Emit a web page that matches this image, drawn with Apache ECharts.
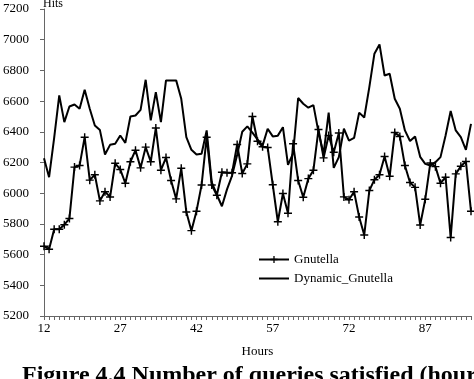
<!DOCTYPE html>
<html><head><meta charset="utf-8">
<script src="https://cdn.jsdelivr.net/npm/echarts@6/dist/echarts.min.js"></script>
<style>html,body{margin:0;padding:0;background:#fff;}#c{width:474px;height:379px;}</style>
</head><body><div id="c"></div>
<script>
const hours = [];
for (let h = 12; h <= 96; h++) hours.push(String(h));
const gnutella = [5655,5635,5765,5765,5795,5835,6170,6180,6365,6085,6120,5950,6010,5975,6195,6155,6065,6205,6280,6165,6300,6205,6425,6150,6232,6083,5963,6162,5878,5756,5883,6053,6365,6053,5987,6137,6133,6133,6317,6128,6191,6500,6338,6302,6298,6055,5814,5998,5870,6322,6083,5974,6095,6150,6415,6230,6376,6267,6392,5976,5957,6010,5845,5728,6017,6088,6120,6239,6110,6395,6370,6180,6070,6038,5793,5960,6197,6173,6065,6104,5711,6126,6175,6207,5883];
const dynamicGnutella = [6228,6104,6360,6637,6463,6565,6578,6550,6674,6550,6441,6411,6252,6315,6322,6376,6328,6500,6506,6543,6739,6474,6658,6463,6735,6735,6735,6615,6365,6283,6252,6257,6409,6070,5990,5915,6025,6115,6250,6400,6435,6395,6350,6310,6420,6370,6375,6430,6185,6260,6620,6583,6557,6574,6398,6257,6525,6165,6235,6420,6343,6360,6525,6493,6691,6909,6969,6767,6778,6615,6550,6409,6340,6370,6237,6191,6180,6202,6235,6376,6535,6409,6365,6283,6452];
const seriesNames = ['Gnutella', 'Dynamic_Gnutella'];
const yTicks = [5200,5400,5600,5800,6000,6200,6400,6600,6800,7000,7200];

const serif = 'Liberation Serif, Times New Roman, serif';
const plus = 'path://M0,4.1H10V5.9H0Z M4.1,0H5.9V10H4.1Z';
const chart = echarts.init(document.getElementById('c'));
chart.setOption({
  animation: false,
  backgroundColor: '#fff',
  grid: { left: 41, right: 3, top: 9, bottom: 63 },
  legend: {
    orient: 'vertical', left: 253, top: 248, itemWidth: 30, itemHeight: 9, itemGap: 6,
    textStyle: { fontFamily: serif, fontSize: 13, color: '#000' },
    data: [
      { name: seriesNames[0] },
      { name: seriesNames[1], itemStyle: { opacity: 0 } }
    ]
  },
  xAxis: {
    type: 'category', data: hours, boundaryGap: false,
    name: 'Hours', nameLocation: 'middle', nameGap: 29,
    nameTextStyle: { fontFamily: serif, fontSize: 13, color: '#000' },
    axisLine: { lineStyle: { color: '#666', width: 1 } },
    axisTick: { show: true, interval: 0, length: 4, lineStyle: { color: '#666' } },
    axisLabel: { interval: 14, margin: 6, fontFamily: serif, fontSize: 13, color: '#000' },
    splitLine: { show: false }
  },
  yAxis: {
    type: 'value', min: yTicks[0], max: yTicks[yTicks.length - 1], interval: 200,
    axisLine: { show: true, lineStyle: { color: '#666', width: 1 } },
    axisTick: { show: true, length: 4, lineStyle: { color: '#666' } },
    axisLabel: { margin: 15, fontFamily: serif, fontSize: 13, color: '#000', formatter: v => String(v) },
    splitLine: { show: false }
  },
  graphic: [
    { type: 'text', left: 43, top: -2, style: { text: 'Hits', font: '12px ' + serif, fill: '#000' } },
    { type: 'text', left: 22, top: 364, style: { text: 'Figure 4.4 Number of queries satisfied (hours)', font: 'bold 24px ' + serif, fill: '#000' } }
  ],
  series: [
    { name: seriesNames[0], type: 'line', data: gnutella, symbol: plus, symbolSize: 8, showAllSymbol: true,
      lineStyle: { color: '#000', width: 2 }, itemStyle: { color: '#000' } },
    { name: seriesNames[1], type: 'line', data: dynamicGnutella, symbol: 'none',
      lineStyle: { color: '#000', width: 2 }, itemStyle: { color: '#000' } }
  ]
});
</script></body></html>
